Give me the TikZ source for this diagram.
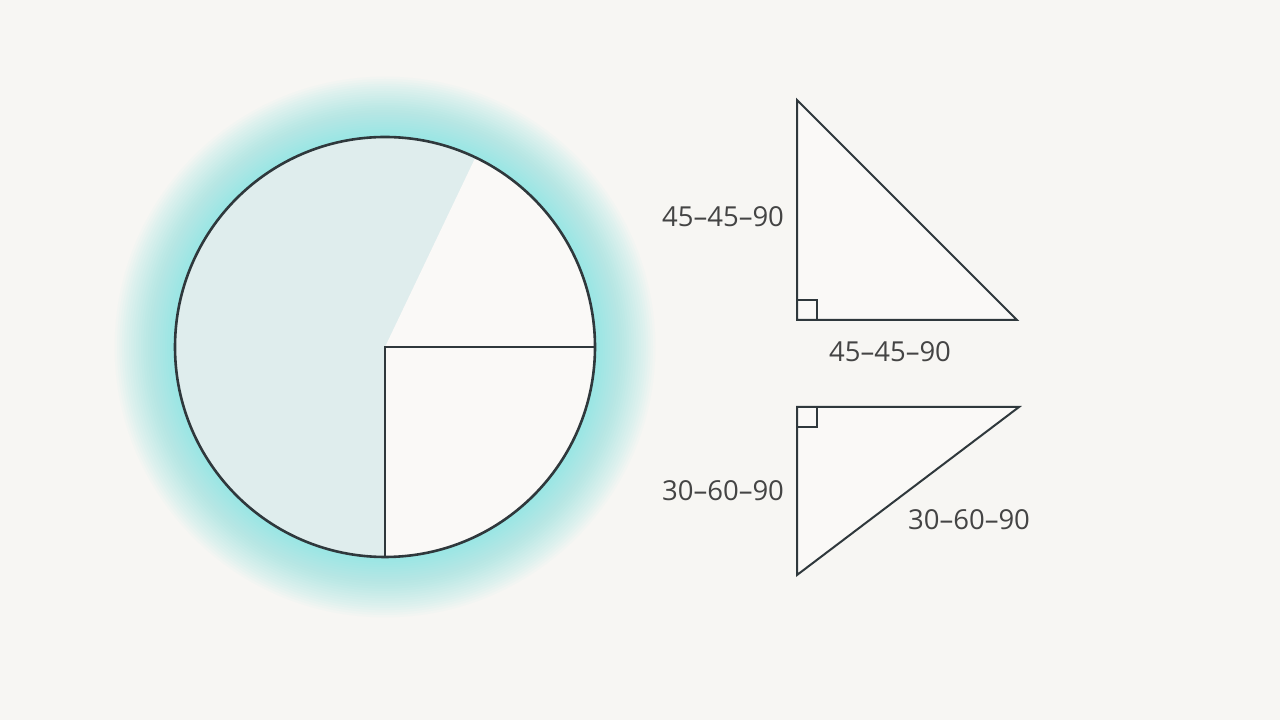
\documentclass[tikz,border=0pt]{standalone}
\usepackage{fontspec}
\setmainfont{Open Sans}
\usepackage{xcolor}
\definecolor{paper_white}{RGB}{247,246,243}
\definecolor{sheet_white}{RGB}{250,249,247}
\definecolor{disc_blue}{RGB}{223,237,237}
\definecolor{glow_cyan}{RGB}{95,230,228}
\definecolor{line_dark}{RGB}{47,56,60}
\definecolor{text_gray}{RGB}{68,68,68}
\usepackage{tikz}

\tikzset{
  tri_line/.style={draw=line_dark, line width=2pt, line join=miter},
  tri_label/.style={text=text_gray, font=\fontsize{27.5}{32}\selectfont, inner sep=0pt}
}

\begin{document}
\begin{tikzpicture}[x=1pt, y=1pt]
\fill[paper_white] (0,0) rectangle (1280,720);
\useasboundingbox (0,0) rectangle (1280,720);

% disc with glow
\coordinate (O) at (385,373);
\coordinate (Or) at (595,373);
\coordinate (Ob) at (385,163);
\foreach \k in {1,...,26}
  \fill[glow_cyan, opacity=0.03] (O) circle ({208+\k*2.4});
\fill[disc_blue] (O) circle (210);
\fill[sheet_white] (O) -- (Or) arc (0:64.5:210) -- cycle;
\fill[sheet_white] (O) -- (Or) arc (0:-90:210) -- cycle;
\draw[line_dark, line width=2.6pt] (O) circle (210);
\draw[line_dark, line width=2.6pt] (Ob) -- (O) -- (Or);

% 45-45-90
\coordinate (A1) at (797,620);
\coordinate (B1) at (797,400);
\coordinate (C1) at (1017,400);
\fill[sheet_white] (A1) -- (B1) -- (C1) -- cycle;
\draw[tri_line] (A1) -- (B1) -- (C1) -- cycle;
\draw[tri_line] (B1) rectangle ++(20,20);
\node[tri_label] (lab1a) at (723,503) {45–45–90};
\node[tri_label] (lab1b) at (890,368) {45–45–90};

% 30-60-90
\coordinate (A2) at (797,313);
\coordinate (B2) at (1019,313);
\coordinate (C2) at (797,145);
\fill[sheet_white] (A2) -- (B2) -- (C2) -- cycle;
\draw[tri_line] (A2) -- (B2) -- (C2) -- cycle;
\draw[tri_line] (A2) rectangle ++(20,-20);
\node[tri_label] (lab2a) at (723,229) {30–60–90};
\node[tri_label] (lab2b) at (969,200) {30–60–90};

\end{tikzpicture}
\end{document}
